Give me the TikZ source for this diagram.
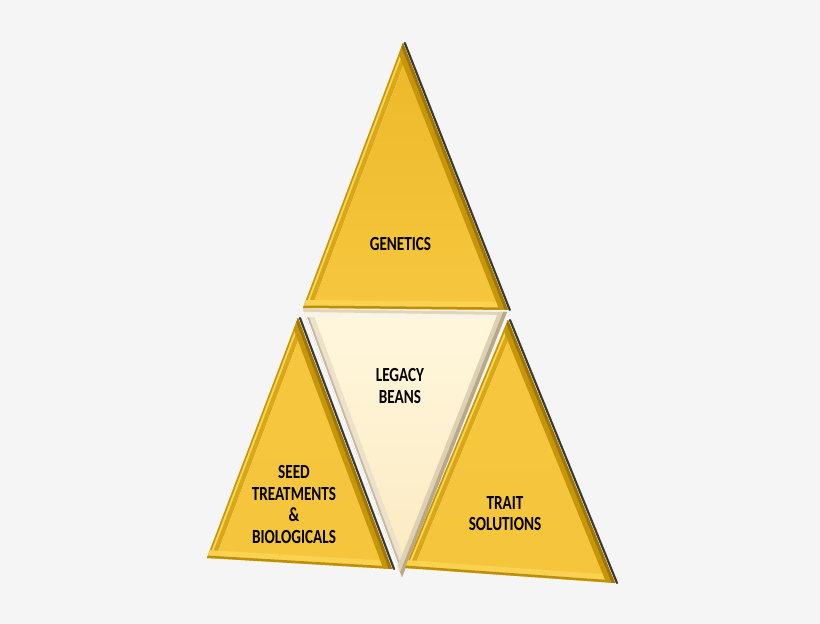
\documentclass[tikz,border=0pt]{standalone}
\usepackage{fontspec}
\setmainfont{Carlito}
\definecolor{bg}{HTML}{F5F5F5}
\definecolor{goldT}{HTML}{EDB82A}
\definecolor{goldB}{HTML}{F6C73E}
\definecolor{creamT}{HTML}{FFF7DE}
\definecolor{creamB}{HTML}{FCEAC0}
\definecolor{shadowc}{HTML}{3A3A36}
\newcommand\bevtri[7]{%
  \path[#4] (#1)--(#2)--(#3)--cycle;
  \begin{scope}
    \clip (#1)--(#2)--(#3)--cycle;
    \draw[#5] (#1)--(#2);
    \draw[#6] (#2)--(#3);
    \draw[#7] (#3)--(#1);
  \end{scope}}
\newcommand\tx[1]{\scalebox{0.76}[1]{#1}}
\tikzset{
  lbl/.style={align=center,inner sep=0pt,text=black,
    font=\fontsize{20}{21.5}\selectfont\bfseries},
  shadowline/.style={draw=shadowc,line width=2.2pt,line cap=round},
  gL/.style={line width=16pt,draw=#1!78!black!0,postaction={draw,line width=16pt,draw={rgb,255:red,218;green,168;blue,22}},
     postaction={draw,line width=7pt,draw={rgb,255:red,250;green,212;blue,84}},
     postaction={draw,line width=3pt,draw={rgb,255:red,196;green,150;blue,12}}},
  gL/.default=black,
  gBase/.style={line width=16pt,draw={rgb,255:red,248;green,210;blue,80},
     postaction={draw,line width=5pt,draw={rgb,255:red,190;green,142;blue,8}}},
  gR/.style={line width=16pt,draw={rgb,255:red,198;green,150;blue,10},
     postaction={draw,line width=6pt,draw={rgb,255:red,160;green,118;blue,0}}},
  cL/.style={line width=16pt,draw={rgb,255:red,236;green,226;blue,204},
     postaction={draw,line width=6pt,draw={rgb,255:red,200;green,186;blue,160}},
     postaction={draw,line width=2pt,draw=white}},
  cTop/.style={line width=16pt,draw={rgb,255:red,250;green,244;blue,230},
     postaction={draw,line width=6pt,draw={rgb,255:red,226;green,212;blue,186}}},
  cR/.style={line width=16pt,draw={rgb,255:red,222;green,208;blue,178},
     postaction={draw,line width=7pt,draw={rgb,255:red,184;green,168;blue,138}}}
}
\begin{document}
\begin{tikzpicture}[x=1pt,y=1pt]
\fill[bg] (0,0) rectangle (820,624);
\useasboundingbox (0,0) rectangle (820,624);
% vertices
\coordinate (A) at (403,581); \coordinate (B) at (303,316); \coordinate (C) at (508,314);
\coordinate (D) at (303,315); \coordinate (E) at (507,312); \coordinate (F) at (402,47);
\coordinate (G) at (298,306); \coordinate (H) at (207,66);  \coordinate (I) at (392,55);
\coordinate (J) at (508,304); \coordinate (K) at (405,56);  \coordinate (L) at (615,41);
% shadows on right edges
\draw[shadowline] ([xshift=1.8pt]A) -- ([xshift=1.8pt]C);
\draw[shadowline] ([xshift=2pt]G) -- ([xshift=2pt]I);
\draw[shadowline] ([xshift=2pt]J) -- ([xshift=2pt]L);
% top triangle
\bevtri{A}{B}{C}{top color=goldT,bottom color=goldB}{gL}{gBase}{gR}
% centre triangle
\bevtri{F}{D}{E}{top color=creamT,bottom color=creamB}{cL}{cTop}{cR}
% left triangle
\bevtri{G}{H}{I}{top color=goldB,bottom color=goldB!90!goldT}{gL}{gBase}{gR}
% right triangle
\bevtri{J}{K}{L}{top color=goldB,bottom color=goldB!90!goldT}{gL}{gBase}{gR}
% labels
\node[lbl] (genetics) at (400.5,380.3) {\tx{GENETICS}};
\node[lbl] (legacy) at (400,238) {\tx{LEGACY}\\\tx{BEANS}};
\node[lbl] (seed) at (294,119.5) {\tx{SEED}\\\tx{TREATMENTS}\\\tx{\&}\\\tx{BIOLOGICALS}};
\node[lbl] (trait) at (505,110.5) {\tx{TRAIT}\\\tx{SOLUTIONS}};
\end{tikzpicture}
\end{document}
